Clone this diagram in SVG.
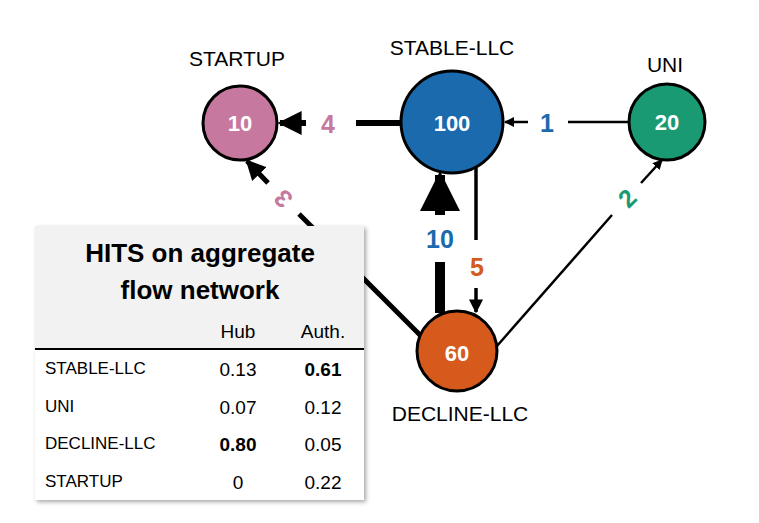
<svg xmlns="http://www.w3.org/2000/svg" width="759" height="523" viewBox="0 0 759 523">
<style>
text{font-family:"Liberation Sans",Arial,sans-serif}
.nl{font-size:21px;fill:#000;text-anchor:middle}
.nv{font-size:22px;font-weight:bold;fill:#fff;text-anchor:middle}
.el{font-size:25px;font-weight:bold;text-anchor:middle}
.c{stroke:#000;stroke-width:3}
.e{stroke:#000;fill:none}
.t{font-size:17px;fill:#000}
.n{font-size:19px;fill:#000;text-anchor:middle}
</style>
<defs>
<marker id="ah" viewBox="0 0 10 10" refX="9" refY="5" markerWidth="4" markerHeight="4" orient="auto" markerUnits="strokeWidth"><path d="M0,0L10,5L0,10z" fill="#000"/></marker>
<marker id="ah2" viewBox="0 0 10 10" refX="9" refY="5" markerWidth="3.5" markerHeight="3.5" orient="auto" markerUnits="strokeWidth"><path d="M0,0L10,5L0,10z" fill="#000"/></marker>
<filter id="sh" x="-5%" y="-5%" width="112%" height="112%"><feDropShadow dx="2" dy="2" stdDeviation="2" flood-opacity="0.35"/></filter>
</defs>
<rect width="759" height="523" fill="#fff"/>
<g id="connectors">
<line class="e" x1="401" y1="123" x2="356" y2="123" stroke-width="6"/>
<line class="e" x1="306" y1="123" x2="280" y2="123" stroke-width="6" marker-end="url(#ah)"/>
<line class="e" x1="629" y1="122" x2="568" y2="122" stroke-width="2.5"/>
<line class="e" x1="528" y1="122" x2="505" y2="122" stroke-width="2.5" marker-end="url(#ah)"/>
<line class="e" x1="422" y1="337" x2="299" y2="214" stroke-width="5"/>
<line class="e" x1="268" y1="183" x2="247" y2="161" stroke-width="5" marker-end="url(#ah)"/>
<line class="e" x1="440" y1="313" x2="440" y2="262" stroke-width="10"/>
<line class="e" x1="440" y1="215" x2="440" y2="175" stroke-width="10" marker-end="url(#ah)"/>
<line class="e" x1="476" y1="166" x2="476" y2="240" stroke-width="3.5"/>
<line class="e" x1="476" y1="288" x2="476" y2="312" stroke-width="3.5" marker-end="url(#ah)"/>
<line class="e" x1="497" y1="346" x2="612" y2="215" stroke-width="2.5"/>
<line class="e" x1="641" y1="183" x2="662" y2="160" stroke-width="2.5" marker-end="url(#ah)"/>
<text class="el" x="328" y="133" fill="#c7789f">4</text>
<text class="el" x="547" y="132" fill="#1a6aad">1</text>
<text class="el" x="283" y="208" fill="#c7789f" transform="rotate(-135 283 199)">3</text>
<text class="el" x="440" y="248" fill="#1a6aad">10</text>
<text class="el" x="477" y="276" fill="#d55a1c">5</text>
<text class="el" x="627" y="207" fill="#1a9a73" transform="rotate(-45 627 198)">2</text>
</g>
<g id="startup"><circle class="c" cx="240" cy="123" r="37" fill="#c7789f"/><text class="nv" x="240" y="131">10</text><text class="nl" x="237" y="66">STARTUP</text></g>
<g id="stable"><circle class="c" cx="452" cy="122" r="51" fill="#1a6aad"/><text class="nv" x="452" y="131" font-size="27">100</text><text class="nl" x="452" y="55">STABLE-LLC</text></g>
<g id="uni"><circle class="c" cx="667" cy="122" r="38" fill="#1a9a73"/><text class="nv" x="667" y="130">20</text><text class="nl" x="665" y="72">UNI</text></g>
<g id="decline"><circle class="c" cx="457" cy="351" r="40" fill="#d55a1c"/><text class="nv" x="457" y="361" font-size="25">60</text><text class="nl" x="460" y="421">DECLINE-LLC</text></g>
<g id="table">
<rect x="35" y="226" width="329" height="274" fill="#fff" filter="url(#sh)"/>
<rect x="35" y="226" width="329" height="123" fill="#f2f2f2"/>
<line x1="35" y1="349" x2="364" y2="349" stroke="#000" stroke-width="2"/>
<text x="200" y="262" font-size="26" font-weight="bold" text-anchor="middle">HITS on aggregate</text>
<text x="200" y="299" font-size="26" font-weight="bold" text-anchor="middle">flow network</text>
<text class="n" x="238" y="338">Hub</text><text class="n" x="323" y="338">Auth.</text>
<text class="t" x="45" y="374">STABLE-LLC</text><text class="n" x="238" y="376">0.13</text><text class="n" x="323" y="376" font-weight="bold">0.61</text>
<text class="t" x="45" y="412">UNI</text><text class="n" x="238" y="414">0.07</text><text class="n" x="323" y="414">0.12</text>
<text class="t" x="45" y="449">DECLINE-LLC</text><text class="n" x="238" y="451" font-weight="bold">0.80</text><text class="n" x="323" y="451">0.05</text>
<text class="t" x="45" y="487">STARTUP</text><text class="n" x="238" y="489">0</text><text class="n" x="323" y="489">0.22</text>
</g>
</svg>
